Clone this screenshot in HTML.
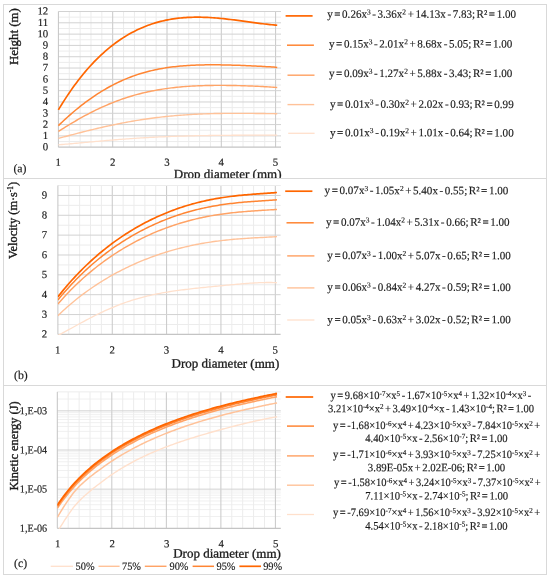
<!DOCTYPE html>
<html><head><meta charset="utf-8"><title>Figure</title>
<style>html,body{margin:0;padding:0;background:#fff}svg{display:block}text{font-family:"Liberation Serif", serif;fill:#1a1a1a;stroke:#1a1a1a;stroke-width:0.16px}.eq{word-spacing:-1.2px}</style></head><body>
<svg width="550" height="579" viewBox="0 0 550 579">
<rect width="550" height="579" fill="#fff"/>
<rect x="3.5" y="4.5" width="543" height="174.0" fill="#fff" stroke="#d9d9d9" stroke-width="1"/>
<line x1="58.4" y1="141.55" x2="281.0" y2="141.55" stroke="#ececec" stroke-width="1"/>
<line x1="58.4" y1="130.24" x2="281.0" y2="130.24" stroke="#ececec" stroke-width="1"/>
<line x1="58.4" y1="118.93" x2="281.0" y2="118.93" stroke="#ececec" stroke-width="1"/>
<line x1="58.4" y1="107.62" x2="281.0" y2="107.62" stroke="#ececec" stroke-width="1"/>
<line x1="58.4" y1="96.31" x2="281.0" y2="96.31" stroke="#ececec" stroke-width="1"/>
<line x1="58.4" y1="85.00" x2="281.0" y2="85.00" stroke="#ececec" stroke-width="1"/>
<line x1="58.4" y1="73.70" x2="281.0" y2="73.70" stroke="#ececec" stroke-width="1"/>
<line x1="58.4" y1="62.39" x2="281.0" y2="62.39" stroke="#ececec" stroke-width="1"/>
<line x1="58.4" y1="51.08" x2="281.0" y2="51.08" stroke="#ececec" stroke-width="1"/>
<line x1="58.4" y1="39.77" x2="281.0" y2="39.77" stroke="#ececec" stroke-width="1"/>
<line x1="58.4" y1="28.46" x2="281.0" y2="28.46" stroke="#ececec" stroke-width="1"/>
<line x1="58.4" y1="17.15" x2="281.0" y2="17.15" stroke="#ececec" stroke-width="1"/>
<line x1="69.26" y1="11.5" x2="69.26" y2="147.2" stroke="#ececec" stroke-width="1"/>
<line x1="80.12" y1="11.5" x2="80.12" y2="147.2" stroke="#ececec" stroke-width="1"/>
<line x1="90.98" y1="11.5" x2="90.98" y2="147.2" stroke="#ececec" stroke-width="1"/>
<line x1="101.84" y1="11.5" x2="101.84" y2="147.2" stroke="#ececec" stroke-width="1"/>
<line x1="123.56" y1="11.5" x2="123.56" y2="147.2" stroke="#ececec" stroke-width="1"/>
<line x1="134.42" y1="11.5" x2="134.42" y2="147.2" stroke="#ececec" stroke-width="1"/>
<line x1="145.28" y1="11.5" x2="145.28" y2="147.2" stroke="#ececec" stroke-width="1"/>
<line x1="156.14" y1="11.5" x2="156.14" y2="147.2" stroke="#ececec" stroke-width="1"/>
<line x1="177.86" y1="11.5" x2="177.86" y2="147.2" stroke="#ececec" stroke-width="1"/>
<line x1="188.72" y1="11.5" x2="188.72" y2="147.2" stroke="#ececec" stroke-width="1"/>
<line x1="199.58" y1="11.5" x2="199.58" y2="147.2" stroke="#ececec" stroke-width="1"/>
<line x1="210.44" y1="11.5" x2="210.44" y2="147.2" stroke="#ececec" stroke-width="1"/>
<line x1="232.16" y1="11.5" x2="232.16" y2="147.2" stroke="#ececec" stroke-width="1"/>
<line x1="243.02" y1="11.5" x2="243.02" y2="147.2" stroke="#ececec" stroke-width="1"/>
<line x1="253.88" y1="11.5" x2="253.88" y2="147.2" stroke="#ececec" stroke-width="1"/>
<line x1="264.74" y1="11.5" x2="264.74" y2="147.2" stroke="#ececec" stroke-width="1"/>
<line x1="112.70" y1="11.5" x2="112.70" y2="147.2" stroke="#c8c8c8" stroke-width="1"/>
<line x1="167.00" y1="11.5" x2="167.00" y2="147.2" stroke="#c8c8c8" stroke-width="1"/>
<line x1="221.30" y1="11.5" x2="221.30" y2="147.2" stroke="#c8c8c8" stroke-width="1"/>
<line x1="275.60" y1="11.5" x2="275.60" y2="147.2" stroke="#c8c8c8" stroke-width="1"/>
<line x1="58.4" y1="135.89" x2="281.0" y2="135.89" stroke="#d2d2d2" stroke-width="1"/>
<line x1="58.4" y1="124.58" x2="281.0" y2="124.58" stroke="#d2d2d2" stroke-width="1"/>
<line x1="58.4" y1="113.27" x2="281.0" y2="113.27" stroke="#d2d2d2" stroke-width="1"/>
<line x1="58.4" y1="101.97" x2="281.0" y2="101.97" stroke="#d2d2d2" stroke-width="1"/>
<line x1="58.4" y1="90.66" x2="281.0" y2="90.66" stroke="#d2d2d2" stroke-width="1"/>
<line x1="58.4" y1="79.35" x2="281.0" y2="79.35" stroke="#d2d2d2" stroke-width="1"/>
<line x1="58.4" y1="68.04" x2="281.0" y2="68.04" stroke="#d2d2d2" stroke-width="1"/>
<line x1="58.4" y1="56.73" x2="281.0" y2="56.73" stroke="#d2d2d2" stroke-width="1"/>
<line x1="58.4" y1="45.42" x2="281.0" y2="45.42" stroke="#d2d2d2" stroke-width="1"/>
<line x1="58.4" y1="34.12" x2="281.0" y2="34.12" stroke="#d2d2d2" stroke-width="1"/>
<line x1="58.4" y1="22.81" x2="281.0" y2="22.81" stroke="#d2d2d2" stroke-width="1"/>
<line x1="58.4" y1="11.50" x2="281.0" y2="11.50" stroke="#d2d2d2" stroke-width="1"/>
<line x1="58.4" y1="11.5" x2="58.4" y2="147.2" stroke="#c4c4c4" stroke-width="1"/>
<line x1="58.4" y1="147.2" x2="281.0" y2="147.2" stroke="#c4c4c4" stroke-width="1.2"/>
<path d="M58.40,144.80 L60.19,144.66 L61.99,144.51 L63.78,144.36 L65.57,144.21 L67.37,144.06 L69.16,143.90 L70.96,143.74 L72.75,143.58 L74.54,143.42 L76.34,143.26 L78.13,143.10 L79.92,142.93 L81.72,142.77 L83.51,142.61 L85.31,142.44 L87.10,142.28 L88.89,142.11 L90.69,141.95 L92.48,141.78 L94.27,141.62 L96.07,141.46 L97.86,141.30 L99.65,141.14 L101.45,140.98 L103.24,140.82 L105.04,140.66 L106.83,140.51 L108.62,140.35 L110.42,140.20 L112.21,140.05 L114.00,139.91 L115.80,139.76 L117.59,139.61 L119.39,139.47 L121.18,139.33 L122.97,139.20 L124.77,139.06 L126.56,138.93 L128.35,138.80 L130.15,138.67 L131.94,138.54 L133.73,138.42 L135.53,138.30 L137.32,138.18 L139.12,138.07 L140.91,137.95 L142.70,137.84 L144.50,137.74 L146.29,137.63 L148.08,137.53 L149.88,137.43 L151.67,137.33 L153.47,137.24 L155.26,137.15 L157.05,137.06 L158.85,136.97 L160.64,136.89 L162.43,136.81 L164.23,136.73 L166.02,136.65 L167.81,136.58 L169.61,136.51 L171.40,136.44 L173.20,136.37 L174.99,136.31 L176.78,136.25 L178.58,136.19 L180.37,136.14 L182.16,136.08 L183.96,136.03 L185.75,135.98 L187.54,135.93 L189.34,135.89 L191.13,135.84 L192.93,135.80 L194.72,135.76 L196.51,135.72 L198.31,135.69 L200.10,135.65 L201.89,135.62 L203.69,135.59 L205.48,135.56 L207.28,135.53 L209.07,135.51 L210.86,135.48 L212.66,135.46 L214.45,135.44 L216.24,135.41 L218.04,135.39 L219.83,135.38 L221.62,135.36 L223.42,135.34 L225.21,135.33 L227.01,135.31 L228.80,135.30 L230.59,135.28 L232.39,135.27 L234.18,135.26 L235.97,135.25 L237.77,135.24 L239.56,135.23 L241.36,135.22 L243.15,135.21 L244.94,135.20 L246.74,135.19 L248.53,135.19 L250.32,135.18 L252.12,135.17 L253.91,135.16 L255.70,135.16 L257.50,135.15 L259.29,135.14 L261.09,135.14 L262.88,135.13 L264.67,135.12 L266.47,135.12 L268.26,135.11 L270.05,135.10 L271.85,135.09 L273.64,135.09 L275.44,135.08 L277.23,135.07" fill="none" stroke="#FFE0CC" stroke-width="1.3" stroke-linejoin="round"/>
<path d="M58.40,138.35 L60.19,137.87 L61.99,137.40 L63.78,136.92 L65.57,136.45 L67.37,135.97 L69.16,135.50 L70.96,135.03 L72.75,134.56 L74.54,134.09 L76.34,133.63 L78.13,133.17 L79.92,132.71 L81.72,132.25 L83.51,131.79 L85.31,131.34 L87.10,130.90 L88.89,130.45 L90.69,130.01 L92.48,129.58 L94.27,129.14 L96.07,128.72 L97.86,128.29 L99.65,127.88 L101.45,127.46 L103.24,127.05 L105.04,126.65 L106.83,126.25 L108.62,125.86 L110.42,125.47 L112.21,125.09 L114.00,124.71 L115.80,124.34 L117.59,123.98 L119.39,123.62 L121.18,123.27 L122.97,122.92 L124.77,122.58 L126.56,122.25 L128.35,121.92 L130.15,121.60 L131.94,121.28 L133.73,120.97 L135.53,120.67 L137.32,120.37 L139.12,120.08 L140.91,119.80 L142.70,119.53 L144.50,119.26 L146.29,118.99 L148.08,118.74 L149.88,118.49 L151.67,118.24 L153.47,118.01 L155.26,117.78 L157.05,117.55 L158.85,117.34 L160.64,117.12 L162.43,116.92 L164.23,116.72 L166.02,116.53 L167.81,116.35 L169.61,116.17 L171.40,116.00 L173.20,115.83 L174.99,115.67 L176.78,115.52 L178.58,115.37 L180.37,115.23 L182.16,115.09 L183.96,114.96 L185.75,114.84 L187.54,114.72 L189.34,114.61 L191.13,114.50 L192.93,114.40 L194.72,114.30 L196.51,114.21 L198.31,114.12 L200.10,114.04 L201.89,113.97 L203.69,113.90 L205.48,113.83 L207.28,113.77 L209.07,113.71 L210.86,113.66 L212.66,113.61 L214.45,113.57 L216.24,113.53 L218.04,113.49 L219.83,113.46 L221.62,113.43 L223.42,113.41 L225.21,113.39 L227.01,113.37 L228.80,113.35 L230.59,113.34 L232.39,113.33 L234.18,113.33 L235.97,113.33 L237.77,113.33 L239.56,113.33 L241.36,113.33 L243.15,113.34 L244.94,113.35 L246.74,113.36 L248.53,113.38 L250.32,113.39 L252.12,113.41 L253.91,113.42 L255.70,113.44 L257.50,113.46 L259.29,113.48 L261.09,113.51 L262.88,113.53 L264.67,113.55 L266.47,113.58 L268.26,113.60 L270.05,113.63 L271.85,113.65 L273.64,113.67 L275.44,113.70 L277.23,113.72" fill="none" stroke="#FFC299" stroke-width="1.4" stroke-linejoin="round"/>
<path d="M58.40,131.47 L60.19,130.33 L61.99,129.19 L63.78,128.07 L65.57,126.95 L67.37,125.85 L69.16,124.75 L70.96,123.67 L72.75,122.60 L74.54,121.54 L76.34,120.50 L78.13,119.47 L79.92,118.45 L81.72,117.45 L83.51,116.46 L85.31,115.48 L87.10,114.52 L88.89,113.58 L90.69,112.65 L92.48,111.74 L94.27,110.85 L96.07,109.97 L97.86,109.10 L99.65,108.26 L101.45,107.43 L103.24,106.61 L105.04,105.82 L106.83,105.04 L108.62,104.28 L110.42,103.53 L112.21,102.81 L114.00,102.10 L115.80,101.40 L117.59,100.73 L119.39,100.07 L121.18,99.43 L122.97,98.80 L124.77,98.20 L126.56,97.61 L128.35,97.03 L130.15,96.48 L131.94,95.94 L133.73,95.41 L135.53,94.91 L137.32,94.41 L139.12,93.94 L140.91,93.48 L142.70,93.04 L144.50,92.61 L146.29,92.20 L148.08,91.80 L149.88,91.42 L151.67,91.05 L153.47,90.70 L155.26,90.36 L157.05,90.03 L158.85,89.72 L160.64,89.42 L162.43,89.14 L164.23,88.86 L166.02,88.60 L167.81,88.36 L169.61,88.12 L171.40,87.90 L173.20,87.69 L174.99,87.49 L176.78,87.30 L178.58,87.12 L180.37,86.95 L182.16,86.80 L183.96,86.65 L185.75,86.51 L187.54,86.38 L189.34,86.26 L191.13,86.15 L192.93,86.05 L194.72,85.96 L196.51,85.87 L198.31,85.79 L200.10,85.72 L201.89,85.66 L203.69,85.61 L205.48,85.56 L207.28,85.51 L209.07,85.48 L210.86,85.45 L212.66,85.42 L214.45,85.40 L216.24,85.39 L218.04,85.38 L219.83,85.38 L221.62,85.38 L223.42,85.39 L225.21,85.40 L227.01,85.42 L228.80,85.44 L230.59,85.46 L232.39,85.49 L234.18,85.52 L235.97,85.56 L237.77,85.60 L239.56,85.64 L241.36,85.69 L243.15,85.74 L244.94,85.80 L246.74,85.86 L248.53,85.92 L250.32,85.99 L252.12,86.06 L253.91,86.13 L255.70,86.21 L257.50,86.29 L259.29,86.38 L261.09,86.47 L262.88,86.56 L264.67,86.66 L266.47,86.76 L268.26,86.87 L270.05,86.99 L271.85,87.11 L273.64,87.23 L275.44,87.36 L277.23,87.50" fill="none" stroke="#FFA366" stroke-width="1.45" stroke-linejoin="round"/>
<path d="M58.40,125.61 L60.19,123.89 L61.99,122.20 L63.78,120.53 L65.57,118.88 L67.37,117.26 L69.16,115.66 L70.96,114.09 L72.75,112.55 L74.54,111.03 L76.34,109.53 L78.13,108.06 L79.92,106.62 L81.72,105.21 L83.51,103.82 L85.31,102.46 L87.10,101.12 L88.89,99.82 L90.69,98.54 L92.48,97.29 L94.27,96.06 L96.07,94.86 L97.86,93.69 L99.65,92.55 L101.45,91.44 L103.24,90.35 L105.04,89.29 L106.83,88.26 L108.62,87.25 L110.42,86.27 L112.21,85.32 L114.00,84.39 L115.80,83.49 L117.59,82.62 L119.39,81.77 L121.18,80.95 L122.97,80.15 L124.77,79.38 L126.56,78.64 L128.35,77.91 L130.15,77.22 L131.94,76.54 L133.73,75.89 L135.53,75.27 L137.32,74.66 L139.12,74.08 L140.91,73.52 L142.70,72.99 L144.50,72.47 L146.29,71.98 L148.08,71.51 L149.88,71.06 L151.67,70.62 L153.47,70.21 L155.26,69.82 L157.05,69.44 L158.85,69.09 L160.64,68.75 L162.43,68.43 L164.23,68.12 L166.02,67.84 L167.81,67.57 L169.61,67.31 L171.40,67.07 L173.20,66.85 L174.99,66.64 L176.78,66.44 L178.58,66.26 L180.37,66.09 L182.16,65.93 L183.96,65.79 L185.75,65.66 L187.54,65.54 L189.34,65.43 L191.13,65.33 L192.93,65.24 L194.72,65.16 L196.51,65.09 L198.31,65.03 L200.10,64.98 L201.89,64.93 L203.69,64.90 L205.48,64.87 L207.28,64.85 L209.07,64.83 L210.86,64.83 L212.66,64.82 L214.45,64.83 L216.24,64.84 L218.04,64.85 L219.83,64.87 L221.62,64.90 L223.42,64.93 L225.21,64.96 L227.01,65.00 L228.80,65.04 L230.59,65.09 L232.39,65.14 L234.18,65.19 L235.97,65.25 L237.77,65.31 L239.56,65.37 L241.36,65.43 L243.15,65.50 L244.94,65.57 L246.74,65.64 L248.53,65.72 L250.32,65.80 L252.12,65.88 L253.91,65.96 L255.70,66.05 L257.50,66.14 L259.29,66.24 L261.09,66.33 L262.88,66.43 L264.67,66.54 L266.47,66.64 L268.26,66.76 L270.05,66.87 L271.85,66.99 L273.64,67.12 L275.44,67.25 L277.23,67.39" fill="none" stroke="#FF8533" stroke-width="1.5" stroke-linejoin="round"/>
<path d="M58.40,109.91 L60.19,106.92 L61.99,104.00 L63.78,101.15 L65.57,98.36 L67.37,95.64 L69.16,92.97 L70.96,90.37 L72.75,87.83 L74.54,85.34 L76.34,82.92 L78.13,80.55 L79.92,78.24 L81.72,75.99 L83.51,73.79 L85.31,71.64 L87.10,69.55 L88.89,67.52 L90.69,65.53 L92.48,63.59 L94.27,61.71 L96.07,59.88 L97.86,58.09 L99.65,56.35 L101.45,54.66 L103.24,53.02 L105.04,51.42 L106.83,49.87 L108.62,48.37 L110.42,46.91 L112.21,45.49 L114.00,44.11 L115.80,42.78 L117.59,41.49 L119.39,40.24 L121.18,39.03 L122.97,37.86 L124.77,36.73 L126.56,35.63 L128.35,34.58 L130.15,33.56 L131.94,32.58 L133.73,31.64 L135.53,30.73 L137.32,29.86 L139.12,29.02 L140.91,28.21 L142.70,27.44 L144.50,26.70 L146.29,26.00 L148.08,25.32 L149.88,24.68 L151.67,24.06 L153.47,23.48 L155.26,22.93 L157.05,22.41 L158.85,21.91 L160.64,21.44 L162.43,21.00 L164.23,20.59 L166.02,20.20 L167.81,19.84 L169.61,19.51 L171.40,19.20 L173.20,18.91 L174.99,18.65 L176.78,18.41 L178.58,18.20 L180.37,18.00 L182.16,17.83 L183.96,17.68 L185.75,17.55 L187.54,17.44 L189.34,17.35 L191.13,17.28 L192.93,17.23 L194.72,17.20 L196.51,17.18 L198.31,17.18 L200.10,17.20 L201.89,17.24 L203.69,17.28 L205.48,17.35 L207.28,17.43 L209.07,17.52 L210.86,17.63 L212.66,17.75 L214.45,17.88 L216.24,18.02 L218.04,18.17 L219.83,18.34 L221.62,18.51 L223.42,18.69 L225.21,18.88 L227.01,19.08 L228.80,19.29 L230.59,19.50 L232.39,19.72 L234.18,19.95 L235.97,20.18 L237.77,20.42 L239.56,20.65 L241.36,20.90 L243.15,21.14 L244.94,21.38 L246.74,21.63 L248.53,21.88 L250.32,22.12 L252.12,22.37 L253.91,22.61 L255.70,22.85 L257.50,23.09 L259.29,23.32 L261.09,23.55 L262.88,23.77 L264.67,23.98 L266.47,24.19 L268.26,24.39 L270.05,24.58 L271.85,24.76 L273.64,24.93 L275.44,25.09 L277.23,25.24" fill="none" stroke="#FF6600" stroke-width="1.7" stroke-linejoin="round"/>
<text transform="rotate(0.03 48.2 150.3)" x="48.2" y="150.3" font-size="10.8" text-anchor="end">0</text>
<text transform="rotate(0.03 48.2 139.0)" x="48.2" y="139.0" font-size="10.8" text-anchor="end">1</text>
<text transform="rotate(0.03 48.2 127.7)" x="48.2" y="127.7" font-size="10.8" text-anchor="end">2</text>
<text transform="rotate(0.03 48.2 116.4)" x="48.2" y="116.4" font-size="10.8" text-anchor="end">3</text>
<text transform="rotate(0.03 48.2 105.1)" x="48.2" y="105.1" font-size="10.8" text-anchor="end">4</text>
<text transform="rotate(0.03 48.2 93.8)" x="48.2" y="93.8" font-size="10.8" text-anchor="end">5</text>
<text transform="rotate(0.03 48.2 82.4)" x="48.2" y="82.4" font-size="10.8" text-anchor="end">6</text>
<text transform="rotate(0.03 48.2 71.1)" x="48.2" y="71.1" font-size="10.8" text-anchor="end">7</text>
<text transform="rotate(0.03 48.2 59.8)" x="48.2" y="59.8" font-size="10.8" text-anchor="end">8</text>
<text transform="rotate(0.03 48.2 48.5)" x="48.2" y="48.5" font-size="10.8" text-anchor="end">9</text>
<text transform="rotate(0.03 48.2 37.2)" x="48.2" y="37.2" font-size="10.8" text-anchor="end">10</text>
<text transform="rotate(0.03 48.2 25.9)" x="48.2" y="25.9" font-size="10.8" text-anchor="end">11</text>
<text transform="rotate(0.03 48.2 14.6)" x="48.2" y="14.6" font-size="10.8" text-anchor="end">12</text>
<text transform="rotate(0.03 58.3 165.7)" x="58.3" y="165.7" font-size="10.8" text-anchor="middle">1</text>
<text transform="rotate(0.03 112.6 165.7)" x="112.6" y="165.7" font-size="10.8" text-anchor="middle">2</text>
<text transform="rotate(0.03 166.9 165.7)" x="166.9" y="165.7" font-size="10.8" text-anchor="middle">3</text>
<text transform="rotate(0.03 221.2 165.7)" x="221.2" y="165.7" font-size="10.8" text-anchor="middle">4</text>
<text transform="rotate(0.03 275.5 165.7)" x="275.5" y="165.7" font-size="10.8" text-anchor="middle">5</text>
<text transform="rotate(0.03 173.8 178.2)" x="173.8" y="178.2" font-size="12.8" textLength="107.7" lengthAdjust="spacingAndGlyphs" style="stroke-width:0.3px">Drop diameter (mm)</text>
<text transform="translate(18.4,36.6) rotate(-90)" x="-28.5" y="0" font-size="12.8" textLength="57" lengthAdjust="spacingAndGlyphs" style="stroke-width:0.35px">Height (m)</text>
<text transform="rotate(0.03 13.4 172.2)" x="13.4" y="172.2" font-size="11.8">(a)</text>
<line x1="285.6" y1="15.9" x2="312.6" y2="15.9" stroke="#FF6600" stroke-width="1.7"/>
<text class="eq" transform="rotate(0.03 327.2 17.7)" x="327.2" y="17.7" font-size="11.3" textLength="188.8" lengthAdjust="spacingAndGlyphs">y = 0.26x<tspan dy="-3.2" font-size="7.6">3</tspan><tspan dy="3.2" font-size="1">&#8203;</tspan> - 3.36x<tspan dy="-3.2" font-size="7.6">2</tspan><tspan dy="3.2" font-size="1">&#8203;</tspan> + 14.13x - 7.83; R² = 1.00</text>
<line x1="287" y1="45.2" x2="313.9" y2="45.2" stroke="#FF8533" stroke-width="1.5"/>
<text class="eq" transform="rotate(0.03 329 47.4)" x="329" y="47.4" font-size="11.3" textLength="183.3" lengthAdjust="spacingAndGlyphs">y = 0.15x<tspan dy="-3.2" font-size="7.6">3</tspan><tspan dy="3.2" font-size="1">&#8203;</tspan> - 2.01x<tspan dy="-3.2" font-size="7.6">2</tspan><tspan dy="3.2" font-size="1">&#8203;</tspan> + 8.68x - 5.05; R² = 1.00</text>
<line x1="287.5" y1="75.2" x2="314.5" y2="75.2" stroke="#FFA366" stroke-width="1.45"/>
<text class="eq" transform="rotate(0.03 329 76.9)" x="329" y="76.9" font-size="11.3" textLength="183.3" lengthAdjust="spacingAndGlyphs">y = 0.09x<tspan dy="-3.2" font-size="7.6">3</tspan><tspan dy="3.2" font-size="1">&#8203;</tspan> - 1.27x<tspan dy="-3.2" font-size="7.6">2</tspan><tspan dy="3.2" font-size="1">&#8203;</tspan> + 5.88x - 3.43; R² = 1.00</text>
<line x1="287.5" y1="104.6" x2="314.2" y2="104.6" stroke="#FFC299" stroke-width="1.4"/>
<text class="eq" transform="rotate(0.03 330 107.8)" x="330" y="107.8" font-size="11.3" textLength="183.7" lengthAdjust="spacingAndGlyphs">y = 0.01x<tspan dy="-3.2" font-size="7.6">3</tspan><tspan dy="3.2" font-size="1">&#8203;</tspan> - 0.30x<tspan dy="-3.2" font-size="7.6">2</tspan><tspan dy="3.2" font-size="1">&#8203;</tspan> + 2.02x - 0.93; R² = 0.99</text>
<line x1="288.2" y1="133.3" x2="314.6" y2="133.3" stroke="#FFE0CC" stroke-width="1.3"/>
<text class="eq" transform="rotate(0.03 330 136.3)" x="330" y="136.3" font-size="11.3" textLength="183.7" lengthAdjust="spacingAndGlyphs">y = 0.01x<tspan dy="-3.2" font-size="7.6">3</tspan><tspan dy="3.2" font-size="1">&#8203;</tspan> - 0.19x<tspan dy="-3.2" font-size="7.6">2</tspan><tspan dy="3.2" font-size="1">&#8203;</tspan> + 1.01x - 0.64; R² = 1.00</text>
<rect x="3.5" y="178.5" width="543" height="207.0" fill="#fff" stroke="#d9d9d9" stroke-width="1"/>
<line x1="57.9" y1="324.47" x2="280.6" y2="324.47" stroke="#ececec" stroke-width="1"/>
<line x1="57.9" y1="304.62" x2="280.6" y2="304.62" stroke="#ececec" stroke-width="1"/>
<line x1="57.9" y1="284.77" x2="280.6" y2="284.77" stroke="#ececec" stroke-width="1"/>
<line x1="57.9" y1="264.91" x2="280.6" y2="264.91" stroke="#ececec" stroke-width="1"/>
<line x1="57.9" y1="245.06" x2="280.6" y2="245.06" stroke="#ececec" stroke-width="1"/>
<line x1="57.9" y1="225.21" x2="280.6" y2="225.21" stroke="#ececec" stroke-width="1"/>
<line x1="57.9" y1="205.35" x2="280.6" y2="205.35" stroke="#ececec" stroke-width="1"/>
<line x1="57.9" y1="185.50" x2="280.6" y2="185.50" stroke="#ececec" stroke-width="1"/>
<line x1="68.77" y1="185.5" x2="68.77" y2="334.4" stroke="#ececec" stroke-width="1"/>
<line x1="79.64" y1="185.5" x2="79.64" y2="334.4" stroke="#ececec" stroke-width="1"/>
<line x1="90.51" y1="185.5" x2="90.51" y2="334.4" stroke="#ececec" stroke-width="1"/>
<line x1="101.38" y1="185.5" x2="101.38" y2="334.4" stroke="#ececec" stroke-width="1"/>
<line x1="123.12" y1="185.5" x2="123.12" y2="334.4" stroke="#ececec" stroke-width="1"/>
<line x1="133.99" y1="185.5" x2="133.99" y2="334.4" stroke="#ececec" stroke-width="1"/>
<line x1="144.86" y1="185.5" x2="144.86" y2="334.4" stroke="#ececec" stroke-width="1"/>
<line x1="155.73" y1="185.5" x2="155.73" y2="334.4" stroke="#ececec" stroke-width="1"/>
<line x1="177.47" y1="185.5" x2="177.47" y2="334.4" stroke="#ececec" stroke-width="1"/>
<line x1="188.34" y1="185.5" x2="188.34" y2="334.4" stroke="#ececec" stroke-width="1"/>
<line x1="199.21" y1="185.5" x2="199.21" y2="334.4" stroke="#ececec" stroke-width="1"/>
<line x1="210.08" y1="185.5" x2="210.08" y2="334.4" stroke="#ececec" stroke-width="1"/>
<line x1="231.82" y1="185.5" x2="231.82" y2="334.4" stroke="#ececec" stroke-width="1"/>
<line x1="242.69" y1="185.5" x2="242.69" y2="334.4" stroke="#ececec" stroke-width="1"/>
<line x1="253.56" y1="185.5" x2="253.56" y2="334.4" stroke="#ececec" stroke-width="1"/>
<line x1="264.43" y1="185.5" x2="264.43" y2="334.4" stroke="#ececec" stroke-width="1"/>
<line x1="112.25" y1="185.5" x2="112.25" y2="334.4" stroke="#c8c8c8" stroke-width="1"/>
<line x1="166.60" y1="185.5" x2="166.60" y2="334.4" stroke="#c8c8c8" stroke-width="1"/>
<line x1="220.95" y1="185.5" x2="220.95" y2="334.4" stroke="#c8c8c8" stroke-width="1"/>
<line x1="275.30" y1="185.5" x2="275.30" y2="334.4" stroke="#c8c8c8" stroke-width="1"/>
<line x1="57.9" y1="314.55" x2="280.6" y2="314.55" stroke="#d2d2d2" stroke-width="1"/>
<line x1="57.9" y1="294.69" x2="280.6" y2="294.69" stroke="#d2d2d2" stroke-width="1"/>
<line x1="57.9" y1="274.84" x2="280.6" y2="274.84" stroke="#d2d2d2" stroke-width="1"/>
<line x1="57.9" y1="254.99" x2="280.6" y2="254.99" stroke="#d2d2d2" stroke-width="1"/>
<line x1="57.9" y1="235.13" x2="280.6" y2="235.13" stroke="#d2d2d2" stroke-width="1"/>
<line x1="57.9" y1="215.28" x2="280.6" y2="215.28" stroke="#d2d2d2" stroke-width="1"/>
<line x1="57.9" y1="195.43" x2="280.6" y2="195.43" stroke="#d2d2d2" stroke-width="1"/>
<line x1="57.9" y1="185.50" x2="280.6" y2="185.50" stroke="#ececec" stroke-width="1"/>
<line x1="57.9" y1="185.5" x2="57.9" y2="334.4" stroke="#c4c4c4" stroke-width="1"/>
<line x1="57.9" y1="334.4" x2="280.6" y2="334.4" stroke="#c4c4c4" stroke-width="1.2"/>
<clipPath id="cb"><rect x="57.9" y="185.5" width="222.70000000000002" height="149.39999999999998"/></clipPath>
<g clip-path="url(#cb)">
<path d="M57.90,335.48 L59.70,334.54 L61.49,333.58 L63.29,332.62 L65.08,331.65 L66.88,330.67 L68.67,329.69 L70.47,328.70 L72.26,327.71 L74.06,326.72 L75.85,325.73 L77.65,324.75 L79.44,323.77 L81.24,322.79 L83.03,321.82 L84.83,320.85 L86.63,319.90 L88.42,318.95 L90.22,318.01 L92.01,317.08 L93.81,316.17 L95.60,315.26 L97.40,314.37 L99.19,313.50 L100.99,312.64 L102.78,311.79 L104.58,310.95 L106.37,310.14 L108.17,309.34 L109.96,308.55 L111.76,307.78 L113.56,307.03 L115.35,306.29 L117.15,305.58 L118.94,304.88 L120.74,304.19 L122.53,303.53 L124.33,302.88 L126.12,302.24 L127.92,301.63 L129.71,301.03 L131.51,300.45 L133.30,299.89 L135.10,299.34 L136.89,298.81 L138.69,298.30 L140.49,297.80 L142.28,297.32 L144.08,296.85 L145.87,296.40 L147.67,295.97 L149.46,295.54 L151.26,295.14 L153.05,294.74 L154.85,294.36 L156.64,293.99 L158.44,293.64 L160.23,293.30 L162.03,292.96 L163.82,292.64 L165.62,292.33 L167.42,292.03 L169.21,291.74 L171.01,291.46 L172.80,291.19 L174.60,290.93 L176.39,290.68 L178.19,290.43 L179.98,290.19 L181.78,289.95 L183.57,289.73 L185.37,289.50 L187.16,289.29 L188.96,289.08 L190.75,288.87 L192.55,288.67 L194.35,288.47 L196.14,288.27 L197.94,288.08 L199.73,287.89 L201.53,287.70 L203.32,287.52 L205.12,287.33 L206.91,287.15 L208.71,286.97 L210.50,286.79 L212.30,286.61 L214.09,286.44 L215.89,286.26 L217.68,286.09 L219.48,285.91 L221.28,285.74 L223.07,285.57 L224.87,285.39 L226.66,285.22 L228.46,285.05 L230.25,284.88 L232.05,284.72 L233.84,284.55 L235.64,284.39 L237.43,284.23 L239.23,284.07 L241.02,283.92 L242.82,283.77 L244.61,283.62 L246.41,283.48 L248.21,283.35 L250.00,283.22 L251.80,283.10 L253.59,282.98 L255.39,282.88 L257.18,282.79 L258.98,282.70 L260.77,282.63 L262.57,282.57 L264.36,282.53 L266.16,282.50 L267.95,282.49 L269.75,282.49 L271.54,282.52 L273.34,282.56 L275.14,282.63 L276.93,282.73" fill="none" stroke="#FFE0CC" stroke-width="1.3" stroke-linejoin="round"/>
<path d="M57.90,315.65 L59.70,313.92 L61.49,312.22 L63.29,310.56 L65.08,308.93 L66.88,307.33 L68.67,305.75 L70.47,304.21 L72.26,302.69 L74.06,301.21 L75.85,299.75 L77.65,298.31 L79.44,296.90 L81.24,295.52 L83.03,294.16 L84.83,292.83 L86.63,291.52 L88.42,290.23 L90.22,288.97 L92.01,287.73 L93.81,286.51 L95.60,285.31 L97.40,284.13 L99.19,282.98 L100.99,281.84 L102.78,280.73 L104.58,279.63 L106.37,278.56 L108.17,277.50 L109.96,276.46 L111.76,275.44 L113.56,274.44 L115.35,273.45 L117.15,272.49 L118.94,271.54 L120.74,270.61 L122.53,269.69 L124.33,268.79 L126.12,267.91 L127.92,267.04 L129.71,266.19 L131.51,265.36 L133.30,264.54 L135.10,263.74 L136.89,262.95 L138.69,262.17 L140.49,261.42 L142.28,260.67 L144.08,259.94 L145.87,259.23 L147.67,258.53 L149.46,257.84 L151.26,257.17 L153.05,256.51 L154.85,255.86 L156.64,255.23 L158.44,254.62 L160.23,254.01 L162.03,253.42 L163.82,252.84 L165.62,252.28 L167.42,251.72 L169.21,251.18 L171.01,250.66 L172.80,250.14 L174.60,249.64 L176.39,249.15 L178.19,248.68 L179.98,248.21 L181.78,247.76 L183.57,247.32 L185.37,246.89 L187.16,246.47 L188.96,246.07 L190.75,245.68 L192.55,245.29 L194.35,244.92 L196.14,244.56 L197.94,244.22 L199.73,243.88 L201.53,243.55 L203.32,243.23 L205.12,242.93 L206.91,242.63 L208.71,242.35 L210.50,242.07 L212.30,241.81 L214.09,241.55 L215.89,241.31 L217.68,241.07 L219.48,240.84 L221.28,240.62 L223.07,240.41 L224.87,240.21 L226.66,240.02 L228.46,239.83 L230.25,239.66 L232.05,239.49 L233.84,239.32 L235.64,239.17 L237.43,239.02 L239.23,238.87 L241.02,238.74 L242.82,238.61 L244.61,238.48 L246.41,238.36 L248.21,238.24 L250.00,238.13 L251.80,238.02 L253.59,237.92 L255.39,237.81 L257.18,237.71 L258.98,237.62 L260.77,237.52 L262.57,237.43 L264.36,237.33 L266.16,237.24 L267.95,237.14 L269.75,237.05 L271.54,236.95 L273.34,236.85 L275.14,236.75 L276.93,236.65" fill="none" stroke="#FFC299" stroke-width="1.4" stroke-linejoin="round"/>
<path d="M57.90,304.06 L59.70,301.99 L61.49,299.96 L63.29,297.97 L65.08,296.01 L66.88,294.09 L68.67,292.21 L70.47,290.36 L72.26,288.54 L74.06,286.76 L75.85,285.01 L77.65,283.29 L79.44,281.61 L81.24,279.95 L83.03,278.32 L84.83,276.72 L86.63,275.15 L88.42,273.61 L90.22,272.10 L92.01,270.61 L93.81,269.15 L95.60,267.71 L97.40,266.30 L99.19,264.92 L100.99,263.56 L102.78,262.22 L104.58,260.91 L106.37,259.62 L108.17,258.36 L109.96,257.11 L111.76,255.89 L113.56,254.69 L115.35,253.51 L117.15,252.35 L118.94,251.21 L120.74,250.10 L122.53,249.00 L124.33,247.92 L126.12,246.87 L127.92,245.83 L129.71,244.81 L131.51,243.81 L133.30,242.83 L135.10,241.87 L136.89,240.92 L138.69,240.00 L140.49,239.09 L142.28,238.20 L144.08,237.32 L145.87,236.46 L147.67,235.63 L149.46,234.80 L151.26,234.00 L153.05,233.21 L154.85,232.43 L156.64,231.68 L158.44,230.94 L160.23,230.21 L162.03,229.50 L163.82,228.81 L165.62,228.14 L167.42,227.47 L169.21,226.83 L171.01,226.20 L172.80,225.58 L174.60,224.98 L176.39,224.39 L178.19,223.82 L179.98,223.27 L181.78,222.72 L183.57,222.20 L185.37,221.68 L187.16,221.18 L188.96,220.70 L190.75,220.23 L192.55,219.77 L194.35,219.33 L196.14,218.89 L197.94,218.48 L199.73,218.07 L201.53,217.68 L203.32,217.30 L205.12,216.94 L206.91,216.58 L208.71,216.24 L210.50,215.91 L212.30,215.59 L214.09,215.29 L215.89,214.99 L217.68,214.71 L219.48,214.44 L221.28,214.17 L223.07,213.92 L224.87,213.68 L226.66,213.45 L228.46,213.23 L230.25,213.02 L232.05,212.81 L233.84,212.62 L235.64,212.43 L237.43,212.25 L239.23,212.08 L241.02,211.91 L242.82,211.76 L244.61,211.61 L246.41,211.46 L248.21,211.32 L250.00,211.19 L251.80,211.06 L253.59,210.93 L255.39,210.81 L257.18,210.69 L258.98,210.57 L260.77,210.46 L262.57,210.34 L264.36,210.23 L266.16,210.12 L267.95,210.01 L269.75,209.89 L271.54,209.78 L273.34,209.66 L275.14,209.54 L276.93,209.41" fill="none" stroke="#FFA366" stroke-width="1.45" stroke-linejoin="round"/>
<path d="M57.90,299.97 L59.70,297.78 L61.49,295.63 L63.29,293.52 L65.08,291.45 L66.88,289.42 L68.67,287.42 L70.47,285.47 L72.26,283.54 L74.06,281.66 L75.85,279.81 L77.65,277.99 L79.44,276.20 L81.24,274.45 L83.03,272.72 L84.83,271.03 L86.63,269.37 L88.42,267.74 L90.22,266.14 L92.01,264.56 L93.81,263.02 L95.60,261.50 L97.40,260.01 L99.19,258.54 L100.99,257.10 L102.78,255.69 L104.58,254.30 L106.37,252.93 L108.17,251.59 L109.96,250.27 L111.76,248.98 L113.56,247.71 L115.35,246.46 L117.15,245.24 L118.94,244.03 L120.74,242.85 L122.53,241.69 L124.33,240.55 L126.12,239.43 L127.92,238.33 L129.71,237.26 L131.51,236.20 L133.30,235.16 L135.10,234.14 L136.89,233.14 L138.69,232.16 L140.49,231.20 L142.28,230.25 L144.08,229.33 L145.87,228.42 L147.67,227.53 L149.46,226.66 L151.26,225.81 L153.05,224.97 L154.85,224.16 L156.64,223.36 L158.44,222.57 L160.23,221.81 L162.03,221.06 L163.82,220.32 L165.62,219.61 L167.42,218.91 L169.21,218.22 L171.01,217.55 L172.80,216.90 L174.60,216.27 L176.39,215.65 L178.19,215.04 L179.98,214.45 L181.78,213.88 L183.57,213.32 L185.37,212.78 L187.16,212.25 L188.96,211.73 L190.75,211.24 L192.55,210.75 L194.35,210.28 L196.14,209.82 L197.94,209.38 L199.73,208.95 L201.53,208.54 L203.32,208.14 L205.12,207.75 L206.91,207.38 L208.71,207.02 L210.50,206.67 L212.30,206.33 L214.09,206.01 L215.89,205.70 L217.68,205.40 L219.48,205.11 L221.28,204.83 L223.07,204.56 L224.87,204.31 L226.66,204.06 L228.46,203.83 L230.25,203.60 L232.05,203.39 L233.84,203.18 L235.64,202.98 L237.43,202.79 L239.23,202.61 L241.02,202.44 L242.82,202.27 L244.61,202.11 L246.41,201.96 L248.21,201.81 L250.00,201.67 L251.80,201.53 L253.59,201.40 L255.39,201.27 L257.18,201.14 L258.98,201.02 L260.77,200.89 L262.57,200.77 L264.36,200.66 L266.16,200.54 L267.95,200.42 L269.75,200.30 L271.54,200.17 L273.34,200.05 L275.14,199.92 L276.93,199.79" fill="none" stroke="#FF8533" stroke-width="1.5" stroke-linejoin="round"/>
<path d="M57.90,296.88 L59.70,294.60 L61.49,292.36 L63.29,290.16 L65.08,288.01 L66.88,285.89 L68.67,283.81 L70.47,281.77 L72.26,279.77 L74.06,277.81 L75.85,275.88 L77.65,273.98 L79.44,272.12 L81.24,270.29 L83.03,268.50 L84.83,266.74 L86.63,265.01 L88.42,263.31 L90.22,261.64 L92.01,260.00 L93.81,258.39 L95.60,256.81 L97.40,255.25 L99.19,253.72 L100.99,252.23 L102.78,250.75 L104.58,249.30 L106.37,247.88 L108.17,246.49 L109.96,245.11 L111.76,243.77 L113.56,242.44 L115.35,241.14 L117.15,239.87 L118.94,238.61 L120.74,237.38 L122.53,236.17 L124.33,234.99 L126.12,233.82 L127.92,232.68 L129.71,231.55 L131.51,230.45 L133.30,229.37 L135.10,228.31 L136.89,227.27 L138.69,226.24 L140.49,225.24 L142.28,224.26 L144.08,223.30 L145.87,222.35 L147.67,221.43 L149.46,220.52 L151.26,219.63 L153.05,218.76 L154.85,217.91 L156.64,217.07 L158.44,216.26 L160.23,215.46 L162.03,214.68 L163.82,213.91 L165.62,213.17 L167.42,212.44 L169.21,211.73 L171.01,211.03 L172.80,210.35 L174.60,209.69 L176.39,209.04 L178.19,208.41 L179.98,207.80 L181.78,207.20 L183.57,206.62 L185.37,206.05 L187.16,205.50 L188.96,204.97 L190.75,204.45 L192.55,203.94 L194.35,203.45 L196.14,202.98 L197.94,202.52 L199.73,202.07 L201.53,201.64 L203.32,201.22 L205.12,200.82 L206.91,200.43 L208.71,200.05 L210.50,199.69 L212.30,199.34 L214.09,199.00 L215.89,198.68 L217.68,198.37 L219.48,198.06 L221.28,197.78 L223.07,197.50 L224.87,197.23 L226.66,196.98 L228.46,196.73 L230.25,196.50 L232.05,196.27 L233.84,196.06 L235.64,195.85 L237.43,195.65 L239.23,195.46 L241.02,195.28 L242.82,195.11 L244.61,194.94 L246.41,194.78 L248.21,194.63 L250.00,194.48 L251.80,194.34 L253.59,194.20 L255.39,194.06 L257.18,193.93 L258.98,193.80 L260.77,193.68 L262.57,193.55 L264.36,193.43 L266.16,193.30 L267.95,193.18 L269.75,193.05 L271.54,192.93 L273.34,192.80 L275.14,192.66 L276.93,192.52" fill="none" stroke="#FF6600" stroke-width="1.7" stroke-linejoin="round"/>
</g>
<text transform="rotate(0.03 47.2 337.6)" x="47.2" y="337.6" font-size="10.8" text-anchor="end">2</text>
<text transform="rotate(0.03 47.2 317.7)" x="47.2" y="317.7" font-size="10.8" text-anchor="end">3</text>
<text transform="rotate(0.03 47.2 297.9)" x="47.2" y="297.9" font-size="10.8" text-anchor="end">4</text>
<text transform="rotate(0.03 47.2 278.0)" x="47.2" y="278.0" font-size="10.8" text-anchor="end">5</text>
<text transform="rotate(0.03 47.2 258.2)" x="47.2" y="258.2" font-size="10.8" text-anchor="end">6</text>
<text transform="rotate(0.03 47.2 238.3)" x="47.2" y="238.3" font-size="10.8" text-anchor="end">7</text>
<text transform="rotate(0.03 47.2 218.5)" x="47.2" y="218.5" font-size="10.8" text-anchor="end">8</text>
<text transform="rotate(0.03 47.2 198.6)" x="47.2" y="198.6" font-size="10.8" text-anchor="end">9</text>
<text transform="rotate(0.03 57.8 353.6)" x="57.8" y="353.6" font-size="10.8" text-anchor="middle">1</text>
<text transform="rotate(0.03 112.2 353.6)" x="112.2" y="353.6" font-size="10.8" text-anchor="middle">2</text>
<text transform="rotate(0.03 166.5 353.6)" x="166.5" y="353.6" font-size="10.8" text-anchor="middle">3</text>
<text transform="rotate(0.03 220.9 353.6)" x="220.9" y="353.6" font-size="10.8" text-anchor="middle">4</text>
<text transform="rotate(0.03 275.2 353.6)" x="275.2" y="353.6" font-size="10.8" text-anchor="middle">5</text>
<text transform="rotate(0.03 171.6 367.6)" x="171.6" y="367.6" font-size="12.8" textLength="107.7" lengthAdjust="spacingAndGlyphs" style="stroke-width:0.3px">Drop diameter (mm)</text>
<text transform="translate(17.0,220.5) rotate(-90)" x="-38.5" y="0" font-size="12.8" textLength="77" lengthAdjust="spacingAndGlyphs" style="stroke-width:0.35px">Velocity (m·s<tspan dy="-3.8" font-size="7.4">-1</tspan><tspan dy="3.8">)</tspan></text>
<text transform="rotate(0.03 14 379)" x="14" y="379" font-size="11.8">(b)</text>
<line x1="285.2" y1="191.2" x2="312.4" y2="191.2" stroke="#FF6600" stroke-width="1.7"/>
<text class="eq" transform="rotate(0.03 324.6 194.1)" x="324.6" y="194.1" font-size="11.3" textLength="183.7" lengthAdjust="spacingAndGlyphs">y = 0.07x<tspan dy="-3.2" font-size="7.6">3</tspan><tspan dy="3.2" font-size="1">&#8203;</tspan> - 1.05x<tspan dy="-3.2" font-size="7.6">2</tspan><tspan dy="3.2" font-size="1">&#8203;</tspan> + 5.40x - 0.55; R² = 1.00</text>
<line x1="286.5" y1="222.8" x2="313.7" y2="222.8" stroke="#FF8533" stroke-width="1.5"/>
<text class="eq" transform="rotate(0.03 326 225.7)" x="326" y="225.7" font-size="11.3" textLength="183.6" lengthAdjust="spacingAndGlyphs">y = 0.07x<tspan dy="-3.2" font-size="7.6">3</tspan><tspan dy="3.2" font-size="1">&#8203;</tspan> - 1.04x<tspan dy="-3.2" font-size="7.6">2</tspan><tspan dy="3.2" font-size="1">&#8203;</tspan> + 5.31x - 0.66; R² = 1.00</text>
<line x1="287.2" y1="255.9" x2="314.4" y2="255.9" stroke="#FFA366" stroke-width="1.45"/>
<text class="eq" transform="rotate(0.03 327.3 259.1)" x="327.3" y="259.1" font-size="11.3" textLength="183.5" lengthAdjust="spacingAndGlyphs">y = 0.07x<tspan dy="-3.2" font-size="7.6">3</tspan><tspan dy="3.2" font-size="1">&#8203;</tspan> - 1.00x<tspan dy="-3.2" font-size="7.6">2</tspan><tspan dy="3.2" font-size="1">&#8203;</tspan> + 5.07x - 0.65; R² = 1.00</text>
<line x1="287.2" y1="287.9" x2="314.4" y2="287.9" stroke="#FFC299" stroke-width="1.4"/>
<text class="eq" transform="rotate(0.03 327.3 290.8)" x="327.3" y="290.8" font-size="11.3" textLength="183.5" lengthAdjust="spacingAndGlyphs">y = 0.06x<tspan dy="-3.2" font-size="7.6">3</tspan><tspan dy="3.2" font-size="1">&#8203;</tspan> - 0.84x<tspan dy="-3.2" font-size="7.6">2</tspan><tspan dy="3.2" font-size="1">&#8203;</tspan> + 4.27x - 0.59; R² = 1.00</text>
<line x1="287.2" y1="320.0" x2="314.4" y2="320.0" stroke="#FFE0CC" stroke-width="1.3"/>
<text class="eq" transform="rotate(0.03 327.3 323.2)" x="327.3" y="323.2" font-size="11.3" textLength="183.5" lengthAdjust="spacingAndGlyphs">y = 0.05x<tspan dy="-3.2" font-size="7.6">3</tspan><tspan dy="3.2" font-size="1">&#8203;</tspan> - 0.63x<tspan dy="-3.2" font-size="7.6">2</tspan><tspan dy="3.2" font-size="1">&#8203;</tspan> + 3.02x - 0.52; R² = 1.00</text>
<rect x="3.5" y="385.5" width="543" height="189.0" fill="#fff" stroke="#d9d9d9" stroke-width="1"/>
<line x1="57.3" y1="516.51" x2="280.8" y2="516.51" stroke="#f0f0f0" stroke-width="1"/>
<line x1="57.3" y1="509.62" x2="280.8" y2="509.62" stroke="#f0f0f0" stroke-width="1"/>
<line x1="57.3" y1="504.73" x2="280.8" y2="504.73" stroke="#f0f0f0" stroke-width="1"/>
<line x1="57.3" y1="500.94" x2="280.8" y2="500.94" stroke="#f0f0f0" stroke-width="1"/>
<line x1="57.3" y1="497.84" x2="280.8" y2="497.84" stroke="#f0f0f0" stroke-width="1"/>
<line x1="57.3" y1="495.21" x2="280.8" y2="495.21" stroke="#f0f0f0" stroke-width="1"/>
<line x1="57.3" y1="492.94" x2="280.8" y2="492.94" stroke="#f0f0f0" stroke-width="1"/>
<line x1="57.3" y1="490.94" x2="280.8" y2="490.94" stroke="#f0f0f0" stroke-width="1"/>
<line x1="57.3" y1="477.36" x2="280.8" y2="477.36" stroke="#f0f0f0" stroke-width="1"/>
<line x1="57.3" y1="470.47" x2="280.8" y2="470.47" stroke="#f0f0f0" stroke-width="1"/>
<line x1="57.3" y1="465.58" x2="280.8" y2="465.58" stroke="#f0f0f0" stroke-width="1"/>
<line x1="57.3" y1="461.79" x2="280.8" y2="461.79" stroke="#f0f0f0" stroke-width="1"/>
<line x1="57.3" y1="458.69" x2="280.8" y2="458.69" stroke="#f0f0f0" stroke-width="1"/>
<line x1="57.3" y1="456.06" x2="280.8" y2="456.06" stroke="#f0f0f0" stroke-width="1"/>
<line x1="57.3" y1="453.79" x2="280.8" y2="453.79" stroke="#f0f0f0" stroke-width="1"/>
<line x1="57.3" y1="451.79" x2="280.8" y2="451.79" stroke="#f0f0f0" stroke-width="1"/>
<line x1="57.3" y1="438.21" x2="280.8" y2="438.21" stroke="#f0f0f0" stroke-width="1"/>
<line x1="57.3" y1="431.32" x2="280.8" y2="431.32" stroke="#f0f0f0" stroke-width="1"/>
<line x1="57.3" y1="426.43" x2="280.8" y2="426.43" stroke="#f0f0f0" stroke-width="1"/>
<line x1="57.3" y1="422.64" x2="280.8" y2="422.64" stroke="#f0f0f0" stroke-width="1"/>
<line x1="57.3" y1="419.54" x2="280.8" y2="419.54" stroke="#f0f0f0" stroke-width="1"/>
<line x1="57.3" y1="416.91" x2="280.8" y2="416.91" stroke="#f0f0f0" stroke-width="1"/>
<line x1="57.3" y1="414.64" x2="280.8" y2="414.64" stroke="#f0f0f0" stroke-width="1"/>
<line x1="57.3" y1="412.64" x2="280.8" y2="412.64" stroke="#f0f0f0" stroke-width="1"/>
<line x1="57.3" y1="399.06" x2="280.8" y2="399.06" stroke="#f0f0f0" stroke-width="1"/>
<line x1="68.20" y1="391.9" x2="68.20" y2="528.3" stroke="#ececec" stroke-width="1"/>
<line x1="79.11" y1="391.9" x2="79.11" y2="528.3" stroke="#ececec" stroke-width="1"/>
<line x1="90.01" y1="391.9" x2="90.01" y2="528.3" stroke="#ececec" stroke-width="1"/>
<line x1="100.92" y1="391.9" x2="100.92" y2="528.3" stroke="#ececec" stroke-width="1"/>
<line x1="122.73" y1="391.9" x2="122.73" y2="528.3" stroke="#ececec" stroke-width="1"/>
<line x1="133.63" y1="391.9" x2="133.63" y2="528.3" stroke="#ececec" stroke-width="1"/>
<line x1="144.54" y1="391.9" x2="144.54" y2="528.3" stroke="#ececec" stroke-width="1"/>
<line x1="155.44" y1="391.9" x2="155.44" y2="528.3" stroke="#ececec" stroke-width="1"/>
<line x1="177.25" y1="391.9" x2="177.25" y2="528.3" stroke="#ececec" stroke-width="1"/>
<line x1="188.16" y1="391.9" x2="188.16" y2="528.3" stroke="#ececec" stroke-width="1"/>
<line x1="199.06" y1="391.9" x2="199.06" y2="528.3" stroke="#ececec" stroke-width="1"/>
<line x1="209.97" y1="391.9" x2="209.97" y2="528.3" stroke="#ececec" stroke-width="1"/>
<line x1="231.78" y1="391.9" x2="231.78" y2="528.3" stroke="#ececec" stroke-width="1"/>
<line x1="242.69" y1="391.9" x2="242.69" y2="528.3" stroke="#ececec" stroke-width="1"/>
<line x1="253.59" y1="391.9" x2="253.59" y2="528.3" stroke="#ececec" stroke-width="1"/>
<line x1="264.50" y1="391.9" x2="264.50" y2="528.3" stroke="#ececec" stroke-width="1"/>
<line x1="111.82" y1="391.9" x2="111.82" y2="528.3" stroke="#c8c8c8" stroke-width="1"/>
<line x1="166.35" y1="391.9" x2="166.35" y2="528.3" stroke="#c8c8c8" stroke-width="1"/>
<line x1="220.88" y1="391.9" x2="220.88" y2="528.3" stroke="#c8c8c8" stroke-width="1"/>
<line x1="275.40" y1="391.9" x2="275.40" y2="528.3" stroke="#c8c8c8" stroke-width="1"/>
<line x1="57.3" y1="489.15" x2="280.8" y2="489.15" stroke="#d2d2d2" stroke-width="1"/>
<line x1="57.3" y1="450.00" x2="280.8" y2="450.00" stroke="#d2d2d2" stroke-width="1"/>
<line x1="57.3" y1="410.85" x2="280.8" y2="410.85" stroke="#d2d2d2" stroke-width="1"/>
<line x1="57.3" y1="391.90" x2="280.8" y2="391.90" stroke="#ececec" stroke-width="1"/>
<line x1="57.3" y1="391.9" x2="57.3" y2="528.3" stroke="#c4c4c4" stroke-width="1"/>
<line x1="57.3" y1="528.3" x2="280.8" y2="528.3" stroke="#c4c4c4" stroke-width="1.2"/>
<clipPath id="cc"><rect x="57.3" y="391.9" width="223.5" height="136.89999999999998"/></clipPath>
<g clip-path="url(#cc)">
<path d="M57.30,531.97 L59.10,529.01 L60.90,526.11 L62.70,523.27 L64.50,520.49 L66.31,517.76 L68.11,515.09 L69.91,512.47 L71.71,509.91 L73.51,507.39 L75.31,505.27 L77.11,503.24 L78.91,501.25 L80.71,499.48 L82.52,497.77 L84.32,496.11 L86.12,494.49 L87.92,492.90 L89.72,491.36 L91.52,489.85 L93.32,488.39 L95.12,486.95 L96.92,485.55 L98.73,484.19 L100.53,482.86 L102.33,481.48 L104.13,480.11 L105.93,478.78 L107.73,477.47 L109.53,476.19 L111.33,474.94 L113.13,473.72 L114.94,472.52 L116.74,471.35 L118.54,470.21 L120.34,469.09 L122.14,467.99 L123.94,466.91 L125.74,465.86 L127.54,464.83 L129.34,463.82 L131.15,462.83 L132.95,461.86 L134.75,460.91 L136.55,459.98 L138.35,459.06 L140.15,458.17 L141.95,457.29 L143.75,456.43 L145.55,455.58 L147.36,454.75 L149.16,453.94 L150.96,453.14 L152.76,452.35 L154.56,451.58 L156.36,450.82 L158.16,450.08 L159.96,449.35 L161.76,448.63 L163.57,447.92 L165.37,447.22 L167.17,446.53 L168.97,445.86 L170.77,445.19 L172.57,444.54 L174.37,443.89 L176.17,443.25 L177.97,442.63 L179.78,442.01 L181.58,441.40 L183.38,440.79 L185.18,440.20 L186.98,439.61 L188.78,439.03 L190.58,438.45 L192.38,437.89 L194.18,437.33 L195.99,436.77 L197.79,436.22 L199.59,435.68 L201.39,435.14 L203.19,434.60 L204.99,434.08 L206.79,433.55 L208.59,433.03 L210.39,432.52 L212.20,432.01 L214.00,431.50 L215.80,431.00 L217.60,430.51 L219.40,430.01 L221.20,429.52 L223.00,429.04 L224.80,428.56 L226.60,428.08 L228.41,427.61 L230.21,427.14 L232.01,426.67 L233.81,426.21 L235.61,425.75 L237.41,425.30 L239.21,424.85 L241.01,424.40 L242.81,423.96 L244.62,423.53 L246.42,423.09 L248.22,422.67 L250.02,422.25 L251.82,421.83 L253.62,421.42 L255.42,421.02 L257.22,420.62 L259.02,420.23 L260.83,419.84 L262.63,419.47 L264.43,419.10 L266.23,418.74 L268.03,418.39 L269.83,418.04 L271.63,417.71 L273.43,417.39 L275.23,417.07 L277.04,416.77" fill="none" stroke="#FFE0CC" stroke-width="1.4" stroke-linejoin="round"/>
<path d="M57.30,517.49 L59.10,514.40 L60.90,511.41 L62.70,508.51 L64.50,505.70 L66.31,502.96 L68.11,500.30 L69.91,497.71 L71.71,495.19 L73.51,492.73 L75.31,490.65 L77.11,488.65 L78.91,486.71 L80.71,484.99 L82.52,483.34 L84.32,481.73 L86.12,480.17 L87.92,478.65 L89.72,477.17 L91.52,475.73 L93.32,474.33 L95.12,472.96 L96.92,471.62 L98.73,470.32 L100.53,469.05 L102.33,467.73 L104.13,466.42 L105.93,465.13 L107.73,463.88 L109.53,462.64 L111.33,461.44 L113.13,460.25 L114.94,459.10 L116.74,457.96 L118.54,456.84 L120.34,455.75 L122.14,454.67 L123.94,453.62 L125.74,452.58 L127.54,451.56 L129.34,450.56 L131.15,449.58 L132.95,448.61 L134.75,447.66 L136.55,446.73 L138.35,445.81 L140.15,444.91 L141.95,444.02 L143.75,443.15 L145.55,442.29 L147.36,441.44 L149.16,440.61 L150.96,439.79 L152.76,438.98 L154.56,438.19 L156.36,437.40 L158.16,436.63 L159.96,435.87 L161.76,435.13 L163.57,434.39 L165.37,433.66 L167.17,432.95 L168.97,432.24 L170.77,431.55 L172.57,430.86 L174.37,430.18 L176.17,429.52 L177.97,428.86 L179.78,428.21 L181.58,427.58 L183.38,426.95 L185.18,426.33 L186.98,425.71 L188.78,425.11 L190.58,424.51 L192.38,423.93 L194.18,423.35 L195.99,422.77 L197.79,422.21 L199.59,421.65 L201.39,421.10 L203.19,420.56 L204.99,420.02 L206.79,419.49 L208.59,418.97 L210.39,418.46 L212.20,417.95 L214.00,417.45 L215.80,416.95 L217.60,416.46 L219.40,415.98 L221.20,415.50 L223.00,415.03 L224.80,414.56 L226.60,414.10 L228.41,413.64 L230.21,413.19 L232.01,412.75 L233.81,412.31 L235.61,411.87 L237.41,411.44 L239.21,411.01 L241.01,410.59 L242.81,410.17 L244.62,409.76 L246.42,409.35 L248.22,408.95 L250.02,408.55 L251.82,408.15 L253.62,407.76 L255.42,407.37 L257.22,406.98 L259.02,406.59 L260.83,406.21 L262.63,405.83 L264.43,405.46 L266.23,405.09 L268.03,404.72 L269.83,404.35 L271.63,403.98 L273.43,403.61 L275.23,403.25 L277.04,402.89" fill="none" stroke="#FFC299" stroke-width="1.5" stroke-linejoin="round"/>
<path d="M57.30,508.21 L59.10,505.57 L60.90,503.02 L62.70,500.56 L64.50,498.19 L66.31,495.89 L68.11,493.67 L69.91,491.53 L71.71,489.45 L73.51,487.43 L75.31,485.47 L77.11,483.57 L78.91,481.73 L80.71,479.93 L82.52,478.18 L84.32,476.48 L86.12,474.82 L87.92,473.21 L89.72,471.63 L91.52,470.09 L93.32,468.59 L95.12,467.12 L96.92,465.69 L98.73,464.29 L100.53,462.92 L102.33,461.58 L104.13,460.27 L105.93,458.99 L107.73,457.73 L109.53,456.50 L111.33,455.29 L113.13,454.11 L114.94,452.95 L116.74,451.81 L118.54,450.69 L120.34,449.60 L122.14,448.52 L123.94,447.47 L125.74,446.43 L127.54,445.41 L129.34,444.41 L131.15,443.43 L132.95,442.47 L134.75,441.52 L136.55,440.58 L138.35,439.66 L140.15,438.76 L141.95,437.87 L143.75,437.00 L145.55,436.14 L147.36,435.29 L149.16,434.46 L150.96,433.64 L152.76,432.83 L154.56,432.04 L156.36,431.26 L158.16,430.49 L159.96,429.73 L161.76,428.98 L163.57,428.24 L165.37,427.51 L167.17,426.80 L168.97,426.09 L170.77,425.40 L172.57,424.71 L174.37,424.04 L176.17,423.37 L177.97,422.71 L179.78,422.07 L181.58,421.43 L183.38,420.80 L185.18,420.18 L186.98,419.57 L188.78,418.96 L190.58,418.37 L192.38,417.78 L194.18,417.20 L195.99,416.63 L197.79,416.06 L199.59,415.50 L201.39,414.95 L203.19,414.41 L204.99,413.88 L206.79,413.35 L208.59,412.83 L210.39,412.31 L212.20,411.80 L214.00,411.30 L215.80,410.80 L217.60,410.31 L219.40,409.83 L221.20,409.35 L223.00,408.88 L224.80,408.41 L226.60,407.95 L228.41,407.49 L230.21,407.04 L232.01,406.60 L233.81,406.16 L235.61,405.72 L237.41,405.29 L239.21,404.87 L241.01,404.44 L242.81,404.03 L244.62,403.61 L246.42,403.21 L248.22,402.80 L250.02,402.40 L251.82,402.00 L253.62,401.61 L255.42,401.22 L257.22,400.83 L259.02,400.45 L260.83,400.07 L262.63,399.69 L264.43,399.31 L266.23,398.94 L268.03,398.57 L269.83,398.20 L271.63,397.83 L273.43,397.47 L275.23,397.10 L277.04,396.74" fill="none" stroke="#FFA366" stroke-width="1.6" stroke-linejoin="round"/>
<path d="M57.30,506.28 L59.10,503.64 L60.90,501.09 L62.70,498.63 L64.50,496.25 L66.31,493.96 L68.11,491.74 L69.91,489.60 L71.71,487.52 L73.51,485.50 L75.31,483.54 L77.11,481.64 L78.91,479.80 L80.71,478.00 L82.52,476.25 L84.32,474.55 L86.12,472.89 L87.92,471.27 L89.72,469.70 L91.52,468.16 L93.32,466.66 L95.12,465.19 L96.92,463.76 L98.73,462.36 L100.53,460.99 L102.33,459.65 L104.13,458.34 L105.93,457.05 L107.73,455.80 L109.53,454.57 L111.33,453.36 L113.13,452.18 L114.94,451.02 L116.74,449.88 L118.54,448.76 L120.34,447.67 L122.14,446.59 L123.94,445.54 L125.74,444.50 L127.54,443.48 L129.34,442.48 L131.15,441.50 L132.95,440.53 L134.75,439.59 L136.55,438.65 L138.35,437.73 L140.15,436.83 L141.95,435.94 L143.75,435.07 L145.55,434.21 L147.36,433.36 L149.16,432.53 L150.96,431.71 L152.76,430.90 L154.56,430.11 L156.36,429.33 L158.16,428.55 L159.96,427.79 L161.76,427.05 L163.57,426.31 L165.37,425.58 L167.17,424.87 L168.97,424.16 L170.77,423.47 L172.57,422.78 L174.37,422.11 L176.17,421.44 L177.97,420.78 L179.78,420.14 L181.58,419.50 L183.38,418.87 L185.18,418.25 L186.98,417.64 L188.78,417.03 L190.58,416.44 L192.38,415.85 L194.18,415.27 L195.99,414.70 L197.79,414.13 L199.59,413.57 L201.39,413.02 L203.19,412.48 L204.99,411.94 L206.79,411.42 L208.59,410.89 L210.39,410.38 L212.20,409.87 L214.00,409.37 L215.80,408.87 L217.60,408.38 L219.40,407.90 L221.20,407.42 L223.00,406.95 L224.80,406.48 L226.60,406.02 L228.41,405.56 L230.21,405.11 L232.01,404.67 L233.81,404.23 L235.61,403.79 L237.41,403.36 L239.21,402.93 L241.01,402.51 L242.81,402.10 L244.62,401.68 L246.42,401.27 L248.22,400.87 L250.02,400.47 L251.82,400.07 L253.62,399.68 L255.42,399.29 L257.22,398.90 L259.02,398.52 L260.83,398.13 L262.63,397.76 L264.43,397.38 L266.23,397.01 L268.03,396.64 L269.83,396.27 L271.63,395.90 L273.43,395.54 L275.23,395.17 L277.04,394.81" fill="none" stroke="#FF8533" stroke-width="1.65" stroke-linejoin="round"/>
<path d="M57.30,505.29 L59.10,502.60 L60.90,500.00 L62.70,497.50 L64.50,495.09 L66.31,492.75 L68.11,490.49 L69.91,488.30 L71.71,486.18 L73.51,484.12 L75.31,482.16 L77.11,480.25 L78.91,478.41 L80.71,476.61 L82.52,474.86 L84.32,473.16 L86.12,471.50 L87.92,469.89 L89.72,468.31 L91.52,466.77 L93.32,465.27 L95.12,463.80 L96.92,462.37 L98.73,460.97 L100.53,459.60 L102.33,458.26 L104.13,456.95 L105.93,455.67 L107.73,454.41 L109.53,453.18 L111.33,451.97 L113.13,450.79 L114.94,449.63 L116.74,448.49 L118.54,447.37 L120.34,446.28 L122.14,445.20 L123.94,444.15 L125.74,443.11 L127.54,442.10 L129.34,441.10 L131.15,440.11 L132.95,439.15 L134.75,438.20 L136.55,437.26 L138.35,436.35 L140.15,435.44 L141.95,434.55 L143.75,433.68 L145.55,432.82 L147.36,431.97 L149.16,431.14 L150.96,430.32 L152.76,429.51 L154.56,428.72 L156.36,427.94 L158.16,427.17 L159.96,426.41 L161.76,425.66 L163.57,424.92 L165.37,424.19 L167.17,423.48 L168.97,422.77 L170.77,422.08 L172.57,421.39 L174.37,420.72 L176.17,420.05 L177.97,419.40 L179.78,418.75 L181.58,418.11 L183.38,417.48 L185.18,416.86 L186.98,416.25 L188.78,415.64 L190.58,415.05 L192.38,414.46 L194.18,413.88 L195.99,413.31 L197.79,412.74 L199.59,412.19 L201.39,411.64 L203.19,411.09 L204.99,410.56 L206.79,410.03 L208.59,409.51 L210.39,408.99 L212.20,408.48 L214.00,407.98 L215.80,407.48 L217.60,406.99 L219.40,406.51 L221.20,406.03 L223.00,405.56 L224.80,405.09 L226.60,404.63 L228.41,404.18 L230.21,403.72 L232.01,403.28 L233.81,402.84 L235.61,402.40 L237.41,401.97 L239.21,401.55 L241.01,401.13 L242.81,400.71 L244.62,400.30 L246.42,399.89 L248.22,399.48 L250.02,399.08 L251.82,398.68 L253.62,398.29 L255.42,397.90 L257.22,397.51 L259.02,397.13 L260.83,396.75 L262.63,396.37 L264.43,395.99 L266.23,395.62 L268.03,395.25 L269.83,394.88 L271.63,394.51 L273.43,394.15 L275.23,393.78 L277.04,393.42" fill="none" stroke="#FF6600" stroke-width="1.8" stroke-linejoin="round"/>
</g>
<text transform="rotate(0.03 47.2 531.8)" x="47.2" y="531.8" font-size="10.8" text-anchor="end" textLength="27.4" lengthAdjust="spacingAndGlyphs">1,E-06</text>
<text transform="rotate(0.03 47.2 492.6)" x="47.2" y="492.6" font-size="10.8" text-anchor="end" textLength="27.4" lengthAdjust="spacingAndGlyphs">1,E-05</text>
<text transform="rotate(0.03 47.2 453.5)" x="47.2" y="453.5" font-size="10.8" text-anchor="end" textLength="27.4" lengthAdjust="spacingAndGlyphs">1,E-04</text>
<text transform="rotate(0.03 47.2 414.4)" x="47.2" y="414.3" font-size="10.8" text-anchor="end" textLength="27.4" lengthAdjust="spacingAndGlyphs">1,E-03</text>
<text transform="rotate(0.03 57.7 547.3)" x="57.7" y="547.3" font-size="10.8" text-anchor="middle">1</text>
<text transform="rotate(0.03 112.2 547.3)" x="112.2" y="547.3" font-size="10.8" text-anchor="middle">2</text>
<text transform="rotate(0.03 166.7 547.3)" x="166.7" y="547.3" font-size="10.8" text-anchor="middle">3</text>
<text transform="rotate(0.03 221.3 547.3)" x="221.3" y="547.3" font-size="10.8" text-anchor="middle">4</text>
<text transform="rotate(0.03 275.8 547.3)" x="275.8" y="547.3" font-size="10.8" text-anchor="middle">5</text>
<text transform="rotate(0.03 173.2 557.6)" x="173.2" y="557.6" font-size="12.8" textLength="107.7" lengthAdjust="spacingAndGlyphs" style="stroke-width:0.3px">Drop diameter (mm)</text>
<text transform="translate(17.8,446.0) rotate(-90)" x="-44.6" y="0" font-size="12.8" textLength="89.3" lengthAdjust="spacingAndGlyphs" style="stroke-width:0.35px">Kinetic energy (J)</text>
<text transform="rotate(0.03 14 567)" x="14" y="567" font-size="11.8">(c)</text>
<line x1="50.7" y1="566.3" x2="73" y2="566.3" stroke="#FFE0CC" stroke-width="1.3"/>
<text transform="rotate(0.03 75.6 569.8)" x="75.6" y="569.8" font-size="10.8" textLength="19" lengthAdjust="spacingAndGlyphs">50%</text>
<line x1="98.5" y1="566.3" x2="119.6" y2="566.3" stroke="#FFC299" stroke-width="1.4"/>
<text transform="rotate(0.03 122 569.8)" x="122" y="569.8" font-size="10.8" textLength="19" lengthAdjust="spacingAndGlyphs">75%</text>
<line x1="144.8" y1="566.3" x2="166.5" y2="566.3" stroke="#FFA366" stroke-width="1.45"/>
<text transform="rotate(0.03 169.5 569.8)" x="169.5" y="569.8" font-size="10.8" textLength="19" lengthAdjust="spacingAndGlyphs">90%</text>
<line x1="192.6" y1="566.3" x2="214" y2="566.3" stroke="#FF8533" stroke-width="1.5"/>
<text transform="rotate(0.03 216.5 569.8)" x="216.5" y="569.8" font-size="10.8" textLength="19" lengthAdjust="spacingAndGlyphs">95%</text>
<line x1="239.4" y1="566.3" x2="261" y2="566.3" stroke="#FF6600" stroke-width="1.7"/>
<text transform="rotate(0.03 263.2 569.8)" x="263.2" y="569.8" font-size="10.8" textLength="19" lengthAdjust="spacingAndGlyphs">99%</text>
<line x1="285.7" y1="397.0" x2="313.2" y2="397.0" stroke="#FF6600" stroke-width="1.7"/>
<text class="eq" transform="rotate(0.03 330.6 398.7)" x="330.6" y="398.7" font-size="11.3" textLength="200.7" lengthAdjust="spacingAndGlyphs">y = 9.68×10<tspan dy="-3.2" font-size="7.6">-7</tspan><tspan dy="3.2" font-size="1">&#8203;</tspan>×x<tspan dy="-3.2" font-size="7.6">5</tspan><tspan dy="3.2" font-size="1">&#8203;</tspan> - 1.67×10<tspan dy="-3.2" font-size="7.6">-5</tspan><tspan dy="3.2" font-size="1">&#8203;</tspan>×x<tspan dy="-3.2" font-size="7.6">4</tspan><tspan dy="3.2" font-size="1">&#8203;</tspan> + 1.32×10<tspan dy="-3.2" font-size="7.6">-4</tspan><tspan dy="3.2" font-size="1">&#8203;</tspan>×x<tspan dy="-3.2" font-size="7.6">3</tspan><tspan dy="3.2" font-size="1">&#8203;</tspan> -</text>
<text class="eq" transform="rotate(0.03 328 412.2)" x="328" y="412.2" font-size="11.3" textLength="206.0" lengthAdjust="spacingAndGlyphs">3.21×10<tspan dy="-3.2" font-size="7.6">-4</tspan><tspan dy="3.2" font-size="1">&#8203;</tspan>×x<tspan dy="-3.2" font-size="7.6">2</tspan><tspan dy="3.2" font-size="1">&#8203;</tspan> + 3.49×10<tspan dy="-3.2" font-size="7.6">-4</tspan><tspan dy="3.2" font-size="1">&#8203;</tspan>×x - 1.43×10<tspan dy="-3.2" font-size="7.6">-4</tspan><tspan dy="3.2" font-size="1">&#8203;</tspan>; R² = 1.00</text>
<line x1="287" y1="426.1" x2="314" y2="426.1" stroke="#FF8533" stroke-width="1.5"/>
<text class="eq" transform="rotate(0.03 333 428.7)" x="333" y="428.7" font-size="11.3" textLength="207.2" lengthAdjust="spacingAndGlyphs">y = -1.68×10<tspan dy="-3.2" font-size="7.6">-6</tspan><tspan dy="3.2" font-size="1">&#8203;</tspan>×x<tspan dy="-3.2" font-size="7.6">4</tspan><tspan dy="3.2" font-size="1">&#8203;</tspan> + 4.23×10<tspan dy="-3.2" font-size="7.6">-5</tspan><tspan dy="3.2" font-size="1">&#8203;</tspan>×x<tspan dy="-3.2" font-size="7.6">3</tspan><tspan dy="3.2" font-size="1">&#8203;</tspan> - 7.84×10<tspan dy="-3.2" font-size="7.6">-5</tspan><tspan dy="3.2" font-size="1">&#8203;</tspan>×x<tspan dy="-3.2" font-size="7.6">2</tspan><tspan dy="3.2" font-size="1">&#8203;</tspan> +</text>
<text class="eq" transform="rotate(0.03 365.2 441.9)" x="365.2" y="441.9" font-size="11.3" textLength="142.4" lengthAdjust="spacingAndGlyphs">4.40×10<tspan dy="-3.2" font-size="7.6">-5</tspan><tspan dy="3.2" font-size="1">&#8203;</tspan>×x - 2.56×10<tspan dy="-3.2" font-size="7.6">-7</tspan><tspan dy="3.2" font-size="1">&#8203;</tspan>; R² = 1.00</text>
<line x1="287" y1="455.9" x2="314" y2="455.9" stroke="#FFA366" stroke-width="1.45"/>
<text class="eq" transform="rotate(0.03 333 458.1)" x="333" y="458.1" font-size="11.3" textLength="207.2" lengthAdjust="spacingAndGlyphs">y = -1.71×10<tspan dy="-3.2" font-size="7.6">-6</tspan><tspan dy="3.2" font-size="1">&#8203;</tspan>×x<tspan dy="-3.2" font-size="7.6">4</tspan><tspan dy="3.2" font-size="1">&#8203;</tspan> + 3.93×10<tspan dy="-3.2" font-size="7.6">-5</tspan><tspan dy="3.2" font-size="1">&#8203;</tspan>×x<tspan dy="-3.2" font-size="7.6">3</tspan><tspan dy="3.2" font-size="1">&#8203;</tspan> - 7.25×10<tspan dy="-3.2" font-size="7.6">-5</tspan><tspan dy="3.2" font-size="1">&#8203;</tspan>×x<tspan dy="-3.2" font-size="7.6">2</tspan><tspan dy="3.2" font-size="1">&#8203;</tspan> +</text>
<text class="eq" transform="rotate(0.03 367.8 471.2)" x="367.8" y="471.2" font-size="11.3" textLength="137.4" lengthAdjust="spacingAndGlyphs">3.89E-05x + 2.02E-06; R² = 1.00</text>
<line x1="287" y1="485.2" x2="314" y2="485.2" stroke="#FFC299" stroke-width="1.4"/>
<text class="eq" transform="rotate(0.03 334 485.9)" x="334" y="485.9" font-size="11.3" textLength="206.6" lengthAdjust="spacingAndGlyphs">y = -1.58×10<tspan dy="-3.2" font-size="7.6">-6</tspan><tspan dy="3.2" font-size="1">&#8203;</tspan>×x<tspan dy="-3.2" font-size="7.6">4</tspan><tspan dy="3.2" font-size="1">&#8203;</tspan> + 3.24×10<tspan dy="-3.2" font-size="7.6">-5</tspan><tspan dy="3.2" font-size="1">&#8203;</tspan>×x<tspan dy="-3.2" font-size="7.6">3</tspan><tspan dy="3.2" font-size="1">&#8203;</tspan> - 7.37×10<tspan dy="-3.2" font-size="7.6">-5</tspan><tspan dy="3.2" font-size="1">&#8203;</tspan>×x<tspan dy="-3.2" font-size="7.6">2</tspan><tspan dy="3.2" font-size="1">&#8203;</tspan> +</text>
<text class="eq" transform="rotate(0.03 365.2 499.5)" x="365.2" y="499.5" font-size="11.3" textLength="142.9" lengthAdjust="spacingAndGlyphs">7.11×10<tspan dy="-3.2" font-size="7.6">-5</tspan><tspan dy="3.2" font-size="1">&#8203;</tspan>×x - 2.74×10<tspan dy="-3.2" font-size="7.6">-5</tspan><tspan dy="3.2" font-size="1">&#8203;</tspan>; R² = 1.00</text>
<line x1="287" y1="514.5" x2="314" y2="514.5" stroke="#FFE0CC" stroke-width="1.3"/>
<text class="eq" transform="rotate(0.03 333 516.4)" x="333" y="516.4" font-size="11.3" textLength="207.2" lengthAdjust="spacingAndGlyphs">y = -7.69×10<tspan dy="-3.2" font-size="7.6">-7</tspan><tspan dy="3.2" font-size="1">&#8203;</tspan>×x<tspan dy="-3.2" font-size="7.6">4</tspan><tspan dy="3.2" font-size="1">&#8203;</tspan> + 1.56×10<tspan dy="-3.2" font-size="7.6">-5</tspan><tspan dy="3.2" font-size="1">&#8203;</tspan>×x<tspan dy="-3.2" font-size="7.6">3</tspan><tspan dy="3.2" font-size="1">&#8203;</tspan> - 3.92×10<tspan dy="-3.2" font-size="7.6">-5</tspan><tspan dy="3.2" font-size="1">&#8203;</tspan>×x<tspan dy="-3.2" font-size="7.6">2</tspan><tspan dy="3.2" font-size="1">&#8203;</tspan> +</text>
<text class="eq" transform="rotate(0.03 365.2 529.6)" x="365.2" y="529.6" font-size="11.3" textLength="142.4" lengthAdjust="spacingAndGlyphs">4.54×10<tspan dy="-3.2" font-size="7.6">-5</tspan><tspan dy="3.2" font-size="1">&#8203;</tspan>×x - 2.18×10<tspan dy="-3.2" font-size="7.6">-5</tspan><tspan dy="3.2" font-size="1">&#8203;</tspan>; R² = 1.00</text>
</svg></body></html>
